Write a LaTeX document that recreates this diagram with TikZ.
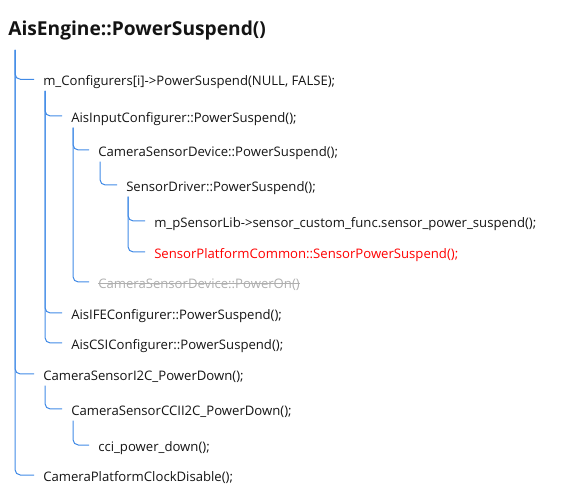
\documentclass[tikz,border=0pt]{standalone}
\usepackage{fontspec}
\setmainfont{Open Sans}
\definecolor{treeblue}{RGB}{64,138,230}
\definecolor{callred}{RGB}{255,0,0}
\definecolor{gonegray}{RGB}{175,175,175}
\definecolor{ink}{RGB}{20,20,20}

\begin{document}
\begin{tikzpicture}[x=.75pt, y=-.75pt,
    every node/.style={inner sep=0pt, anchor=base west, text=ink,
      font=\fontsize{9.85pt}{12pt}\selectfont},
    branch/.style={line width=.75pt, treeblue, rounded corners=4pt}]
    \useasboundingbox (0,0) rectangle (572,499);

    \node[font=\bfseries\fontsize{14.4pt}{16pt}\selectfont] (top) at (8,36) {AisEngine::PowerSuspend()};

    \node (cfg) at (43,86)    {m\_Configurers[i]->PowerSuspend(NULL, FALSE);};
    \node (inp) at (71,122.7) {AisInputConfigurer::PowerSuspend();};
    \node (csd) at (98,156.7) {CameraSensorDevice::PowerSuspend();};
    \node (drv) at (126,191.7) {SensorDriver::PowerSuspend();};
    \node (lib) at (154,227.7) {m\_pSensorLib->sensor\_custom\_func.sensor\_power\_suspend();};
    \node[text=callred] (spc) at (154,258.7) {SensorPlatformCommon::SensorPowerSuspend();};
    \node[text=gonegray] (pon) at (98,288.7) {CameraSensorDevice::PowerOn()};
    \node (ife) at (71,319.7) {AisIFEConfigurer::PowerSuspend();};
    \node (csi) at (71,349.7) {AisCSIConfigurer::PowerSuspend();};
    \node (i2c) at (43,380.7) {CameraSensorI2C\_PowerDown();};
    \node (cci) at (71,415.7) {CameraSensorCCII2C\_PowerDown();};
    \node (pwd) at (98,451.7) {cci\_power\_down();};
    \node (clk) at (43,481.7) {CameraPlatformClockDisable();};

    % struck out call
    \draw [line width=.75pt,gonegray] ([yshift=3.6pt]pon.base west) -- ([yshift=3.6pt]pon.base east);

    \foreach \c in {cfg,i2c,clk}
      \draw [branch] ([shift={(7,14)}]top.base west) |- ([shift={(-9,-6.7)}]\c.base west);

    \foreach \p/\c in {cfg/inp,inp/csd,csd/drv,drv/lib,drv/spc,inp/pon,cfg/ife,cfg/csi,i2c/cci,cci/pwd}
      \draw [branch] ([shift={(2,5)}]\p.base west) |- ([shift={(-9,-6.7)}]\c.base west);
\end{tikzpicture}
\end{document}
